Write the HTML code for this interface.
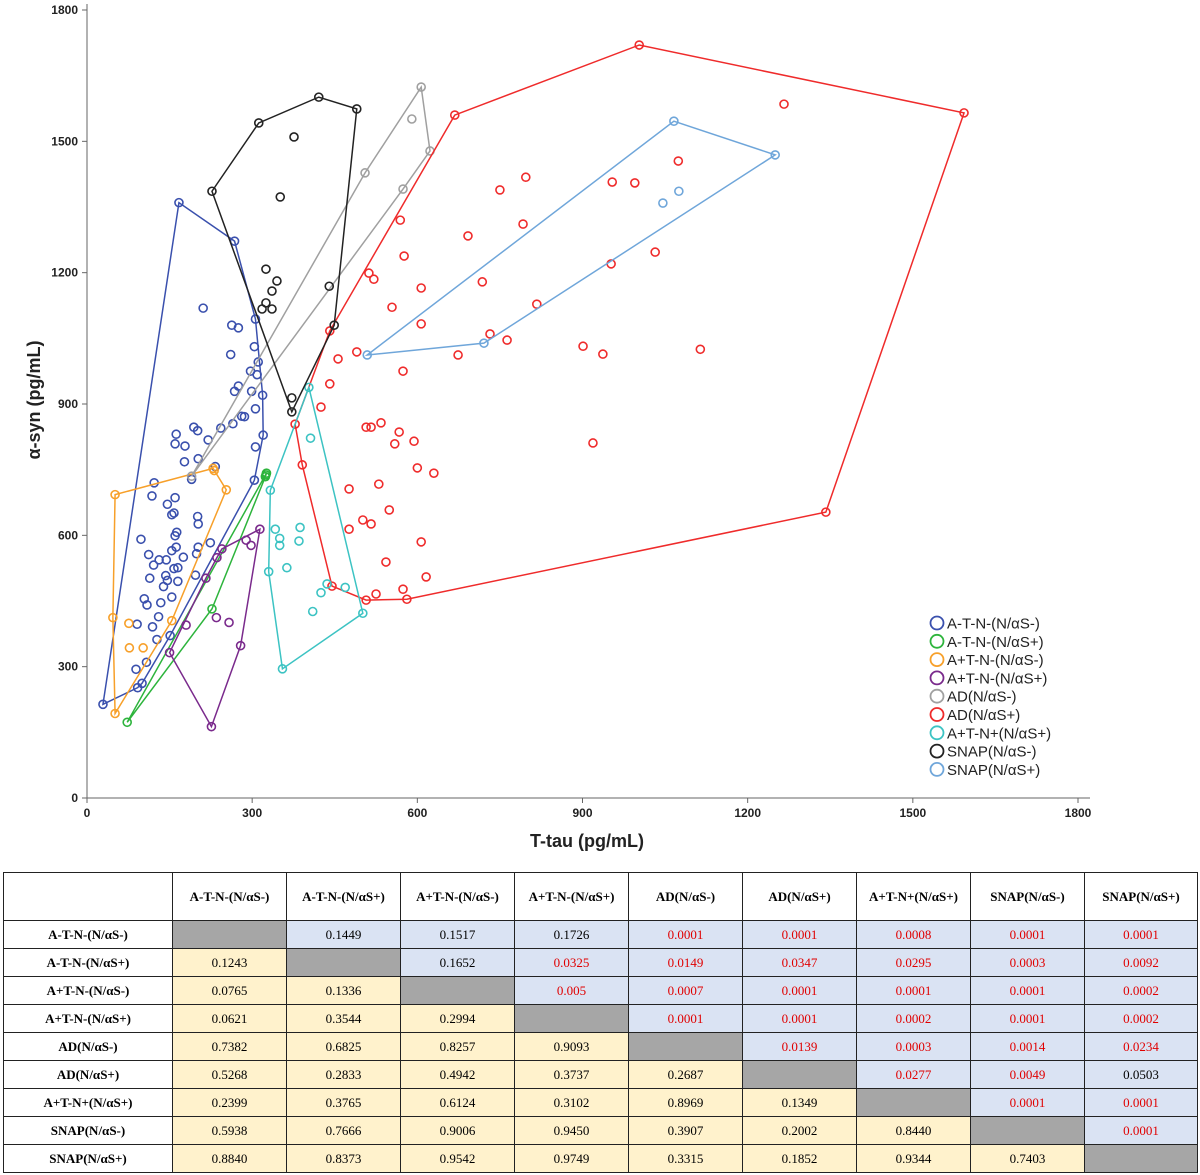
<!DOCTYPE html>
<html><head><meta charset="utf-8">
<style>
body{margin:0;background:#fff;width:1200px;height:1175px;position:relative;overflow:hidden;font-family:"Liberation Sans",Arial,sans-serif}
#chart{position:absolute;left:0;top:0}
table{position:absolute;left:3px;top:872px;border-collapse:collapse;font-family:"Liberation Serif",serif;font-size:13px;table-layout:fixed}
td{border:1px solid #222;text-align:center;height:27px;padding:0}
tr.h td{height:47px;font-weight:bold;background:#fff}
td.rh{font-weight:bold;background:#fff}
td.b{background:#dae3f3}td.y{background:#fff2cc}td.g{background:#a6a6a6}
td.r{color:#e00000}
</style></head><body>
<svg id="chart" width="1200" height="860" xmlns="http://www.w3.org/2000/svg"></svg>
<table id="tbl"></table>
<script>
const groupNames=["A-T-N-(N/αS-)","A-T-N-(N/αS+)","A+T-N-(N/αS-)","A+T-N-(N/αS+)","AD(N/αS-)","AD(N/αS+)","A+T-N+(N/αS+)","SNAP(N/αS-)","SNAP(N/αS+)"];
const groupColors=["#3a50ad","#2db43c","#f7a02a","#7a2a8c","#a0a0a0","#ef2b2b","#3cc3c3","#222222","#6fa6da"];
const xTicks=[0,300,600,900,1200,1500,1800];
const yTicks=[0,300,600,900,1200,1500,1800];
const g0=[[29,214],[167,1360],[268,1272],[306,1094],[320,829],[304,726],[100,262],[211,1119],[263,1080],[275,1074],[261,1013],[304,1031],[311,996],[297,975],[309,967],[275,941],[268,929],[299,929],[319,920],[306,889],[286,871],[281,872],[265,855],[243,845],[220,818],[194,847],[201,839],[162,831],[160,809],[178,804],[177,768],[202,775],[233,757],[190,728],[306,802],[122,720],[118,690],[146,671],[160,686],[158,651],[154,647],[201,643],[202,626],[163,607],[160,599],[98,591],[112,556],[131,544],[121,532],[144,544],[154,565],[162,573],[175,550],[224,583],[202,573],[199,558],[158,524],[165,526],[143,508],[139,483],[146,497],[114,502],[165,495],[197,509],[104,455],[109,441],[134,446],[154,459],[130,414],[91,397],[119,391],[151,371],[127,362],[108,310],[89,294],[92,252]];
const g1=[[73,173],[227,432],[326,742],[324,734],[325,738]];
const g2=[[51,693],[229,753],[253,704],[154,405],[51,193],[47,412],[76,399],[77,343],[102,343],[231,748]];
const g3=[[150,332],[245,569],[314,614],[279,348],[226,163],[289,589],[298,577],[235,412],[258,401],[180,395],[216,502],[236,549]];
const g4=[[190,735],[607,1624],[623,1478],[590,1551],[505,1428],[574,1391]];
const g5=[[378,854],[668,1560],[1003,1720],[1593,1565],[1342,653],[581,454],[507,452],[445,484],[391,761],[569,1320],[576,1238],[512,1199],[521,1185],[554,1121],[607,1165],[607,1083],[441,1067],[456,1003],[490,1019],[574,975],[441,946],[425,893],[507,847],[516,847],[534,857],[567,836],[559,809],[594,815],[600,754],[630,742],[530,717],[476,706],[549,658],[501,635],[516,626],[476,614],[607,585],[543,539],[616,505],[574,477],[525,466],[692,1284],[750,1389],[797,1418],[792,1311],[718,1179],[817,1128],[732,1060],[763,1046],[674,1012],[952,1220],[1032,1247],[901,1032],[937,1014],[919,811],[954,1407],[995,1405],[1074,1455],[1266,1585],[1114,1025]];
const g6=[[403,938],[501,422],[355,295],[330,517],[333,703],[406,822],[342,614],[350,593],[350,577],[387,618],[385,587],[363,526],[469,481],[436,489],[425,469],[410,426]];
const g7=[[227,1386],[312,1542],[421,1601],[490,1574],[449,1080],[372,882],[372,914],[376,1510],[351,1373],[325,1208],[345,1181],[336,1158],[318,1117],[325,1131],[336,1117],[440,1169]];
const g8=[[509,1012],[721,1039],[1066,1546],[1250,1469],[1075,1386],[1046,1359]];
const groups=[g0,g1,g2,g3,g4,g5,g6,g7,g8];
const pRowHeaders=groupNames;
const pValues=[
[null,"0.1449","0.1517","0.1726","0.0001","0.0001","0.0008","0.0001","0.0001"],
["0.1243",null,"0.1652","0.0325","0.0149","0.0347","0.0295","0.0003","0.0092"],
["0.0765","0.1336",null,"0.005","0.0007","0.0001","0.0001","0.0001","0.0002"],
["0.0621","0.3544","0.2994",null,"0.0001","0.0001","0.0002","0.0001","0.0002"],
["0.7382","0.6825","0.8257","0.9093",null,"0.0139","0.0003","0.0014","0.0234"],
["0.5268","0.2833","0.4942","0.3737","0.2687",null,"0.0277","0.0049","0.0503"],
["0.2399","0.3765","0.6124","0.3102","0.8969","0.1349",null,"0.0001","0.0001"],
["0.5938","0.7666","0.9006","0.9450","0.3907","0.2002","0.8440",null,"0.0001"],
["0.8840","0.8373","0.9542","0.9749","0.3315","0.1852","0.9344","0.7403",null]];

const NS="http://www.w3.org/2000/svg";
const svg=document.getElementById('chart');
const X=v=>87+v*(991/1800);
const Y=v=>798-v*(788/1800);
function mk(t,a,p){const e=document.createElementNS(NS,t);for(const k in a)e.setAttribute(k,a[k]);(p||svg).appendChild(e);return e;}
// axes
let ax=mk('line',{x1:87,y1:4,x2:87,y2:798,stroke:'#666','stroke-width':1});


let bx=mk('line',{x1:87,y1:798,x2:1090,y2:798,stroke:'#666','stroke-width':1});


xTicks.forEach(v=>{mk('line',{x1:X(v),y1:798,x2:X(v),y2:803,stroke:'#666'});
 const t=mk('text',{x:X(v),y:817,'text-anchor':'middle','font-size':12,'font-weight':'bold',fill:'#222'});t.textContent=v;
 
 });
yTicks.forEach(v=>{mk('line',{x1:82,y1:Y(v),x2:87,y2:Y(v),stroke:'#666'});
 const t=mk('text',{x:78,y:Y(v)+4,'text-anchor':'end','font-size':12,'font-weight':'bold',fill:'#222'});t.textContent=v;
 
 });
let xt=mk('text',{x:587,y:847,'text-anchor':'middle','font-size':18,'font-weight':'bold',fill:'#222'});xt.textContent='T-tau (pg/mL)';


let yt=mk('text',{x:0,y:0,'text-anchor':'middle','font-size':18,'font-weight':'bold',fill:'#222',transform:'translate(40,400) rotate(-90)'});yt.textContent='α-syn (pg/mL)';


function hull(pts){const p=pts.map(q=>[X(q[0]),Y(q[1])]).sort((a,b)=>a[0]-b[0]||a[1]-b[1]);
 const cr=(o,a,b)=>(a[0]-o[0])*(b[1]-o[1])-(a[1]-o[1])*(b[0]-o[0]);
 const lo=[],up=[];for(const q of p){while(lo.length>=2&&cr(lo[lo.length-2],lo[lo.length-1],q)<=0)lo.pop();lo.push(q);}
 for(let i=p.length-1;i>=0;i--){const q=p[i];while(up.length>=2&&cr(up[up.length-2],up[up.length-1],q)<=0)up.pop();up.push(q);}
 up.pop();lo.pop();return lo.concat(up);}
groups.forEach((pts,gi)=>{
 const gr=mk('g',{});
 
 
 const h=hull(pts);
 const pl=mk('polygon',{points:h.map(q=>q.join(',')).join(' '),fill:'none',stroke:groupColors[gi],'stroke-width':1.5},gr);
 
 
 pts.forEach(q=>{const c=mk('circle',{cx:X(q[0]),cy:Y(q[1]),r:4,fill:'none',stroke:groupColors[gi],'stroke-width':1.6},gr);
  
  });
});
// legend
groupNames.forEach((n,i)=>{const y=623+i*18.3;
 const lg=mk('g',{});
 
 
 mk('circle',{cx:937,cy:y,r:6.5,fill:'none',stroke:groupColors[i],'stroke-width':1.8},lg);
 const t=mk('text',{x:947,y:y+5.5,'font-size':15,fill:'#222'},lg);t.textContent=n;});
// table
const tb=document.getElementById('tbl');
const widths=[169,114,114,114,114,114,114,114,114,113];
let cg='<colgroup>'+widths.map(w=>'<col style="width:'+w+'px">').join('')+'</colgroup>';
let html=cg+'<tr class="h"><td></td>'+groupNames.map(n=>'<td>'+n+'</td>').join('')+'</tr>';
pValues.forEach((row,ri)=>{html+='<tr><td class="rh">'+pRowHeaders[ri]+'</td>';
 row.forEach((v,ci)=>{let cls=v===null?'g':(ci>ri?'b':'y');if(v!==null&&ci>ri&&parseFloat(v)<0.05)cls+=' r';
  html+='<td class="'+cls+'">'+(v===null?'':v)+'</td>';});html+='</tr>';});
tb.innerHTML=html;
</script>
</body></html>
